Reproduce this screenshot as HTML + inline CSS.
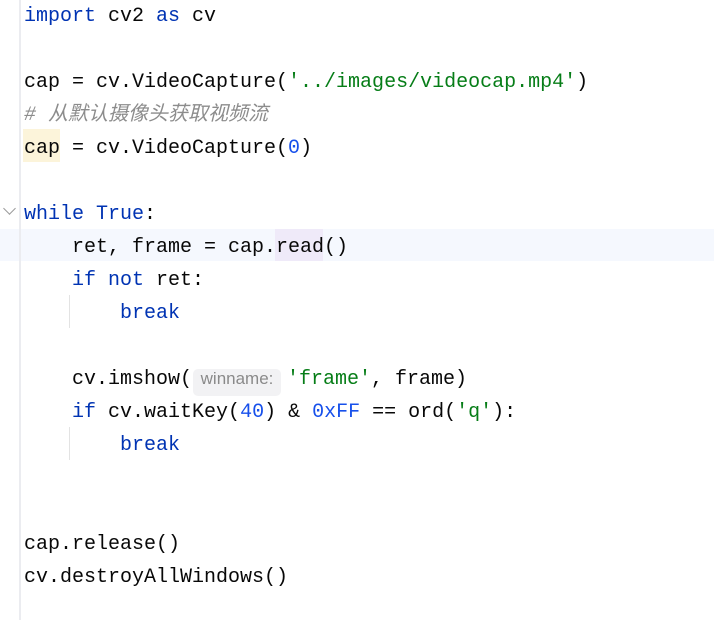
<!DOCTYPE html>
<html><head><meta charset="utf-8"><style>
body{margin:0;width:714px;height:620px;background:#fff;overflow:hidden;position:relative}
.g{position:absolute;left:19px;top:0;width:2px;height:620px;background:#ebecf0}
.cl{position:absolute;left:0;top:229px;width:714px;height:32px;background:#f5f8fe}
.hl1{position:absolute;left:23px;top:129px;width:37px;height:33px;background:#fcf4da}
.hl2{position:absolute;left:275px;top:229px;width:48px;height:32px;background:#efeaf9}
.ig{position:absolute;left:69px;width:1px;background:#e3e3e3}
pre{position:absolute;left:24px;top:0px;margin:0;font:20px/33px "Liberation Mono",monospace;color:#080808}
.k{color:#0033b3}.s{color:#067d17}.n{color:#1750eb}
.c{color:#8c8c8c;font-style:italic;font-family:"Liberation Mono","Noto Sans CJK SC",monospace}
.h{display:inline-block;width:88px;margin:0 6px 0 1px;height:27px;line-height:27px;vertical-align:0px;background:#f2f2f4;border-radius:5px;color:#8a8a8a;font:17px "Liberation Sans",sans-serif;text-align:center}
.f{position:absolute;left:5px;top:204px;width:8px;height:8px;border-right:1.5px solid #9a9a9a;border-bottom:1.5px solid #9a9a9a;transform:rotate(45deg)}
</style></head><body>
<div class="cl"></div><div class="g"></div>
<div class="hl1"></div><div class="hl2"></div>
<div class="ig" style="top:295px;height:33px"></div>
<div class="ig" style="top:427px;height:33px"></div>
<div class="f"></div>
<pre><span class="k">import</span> cv2 <span class="k">as</span> cv

cap = cv.VideoCapture(<span class="s">'../images/videocap.mp4'</span>)
<span class="c"># 从默认摄像头获取视频流</span>
cap = cv.VideoCapture(<span class="n">0</span>)

<span class="k">while True</span>:
    ret, frame = cap.read()
    <span class="k">if not</span> ret:
        <span class="k">break</span>

    cv.imshow(<span class="h">winname:</span><span class="s">'frame'</span>, frame)
    <span class="k">if</span> cv.waitKey(<span class="n">40</span>) &amp; <span class="n">0xFF</span> == ord(<span class="s">'q'</span>):
        <span class="k">break</span>


cap.release()
cv.destroyAllWindows()</pre>
</body></html>
